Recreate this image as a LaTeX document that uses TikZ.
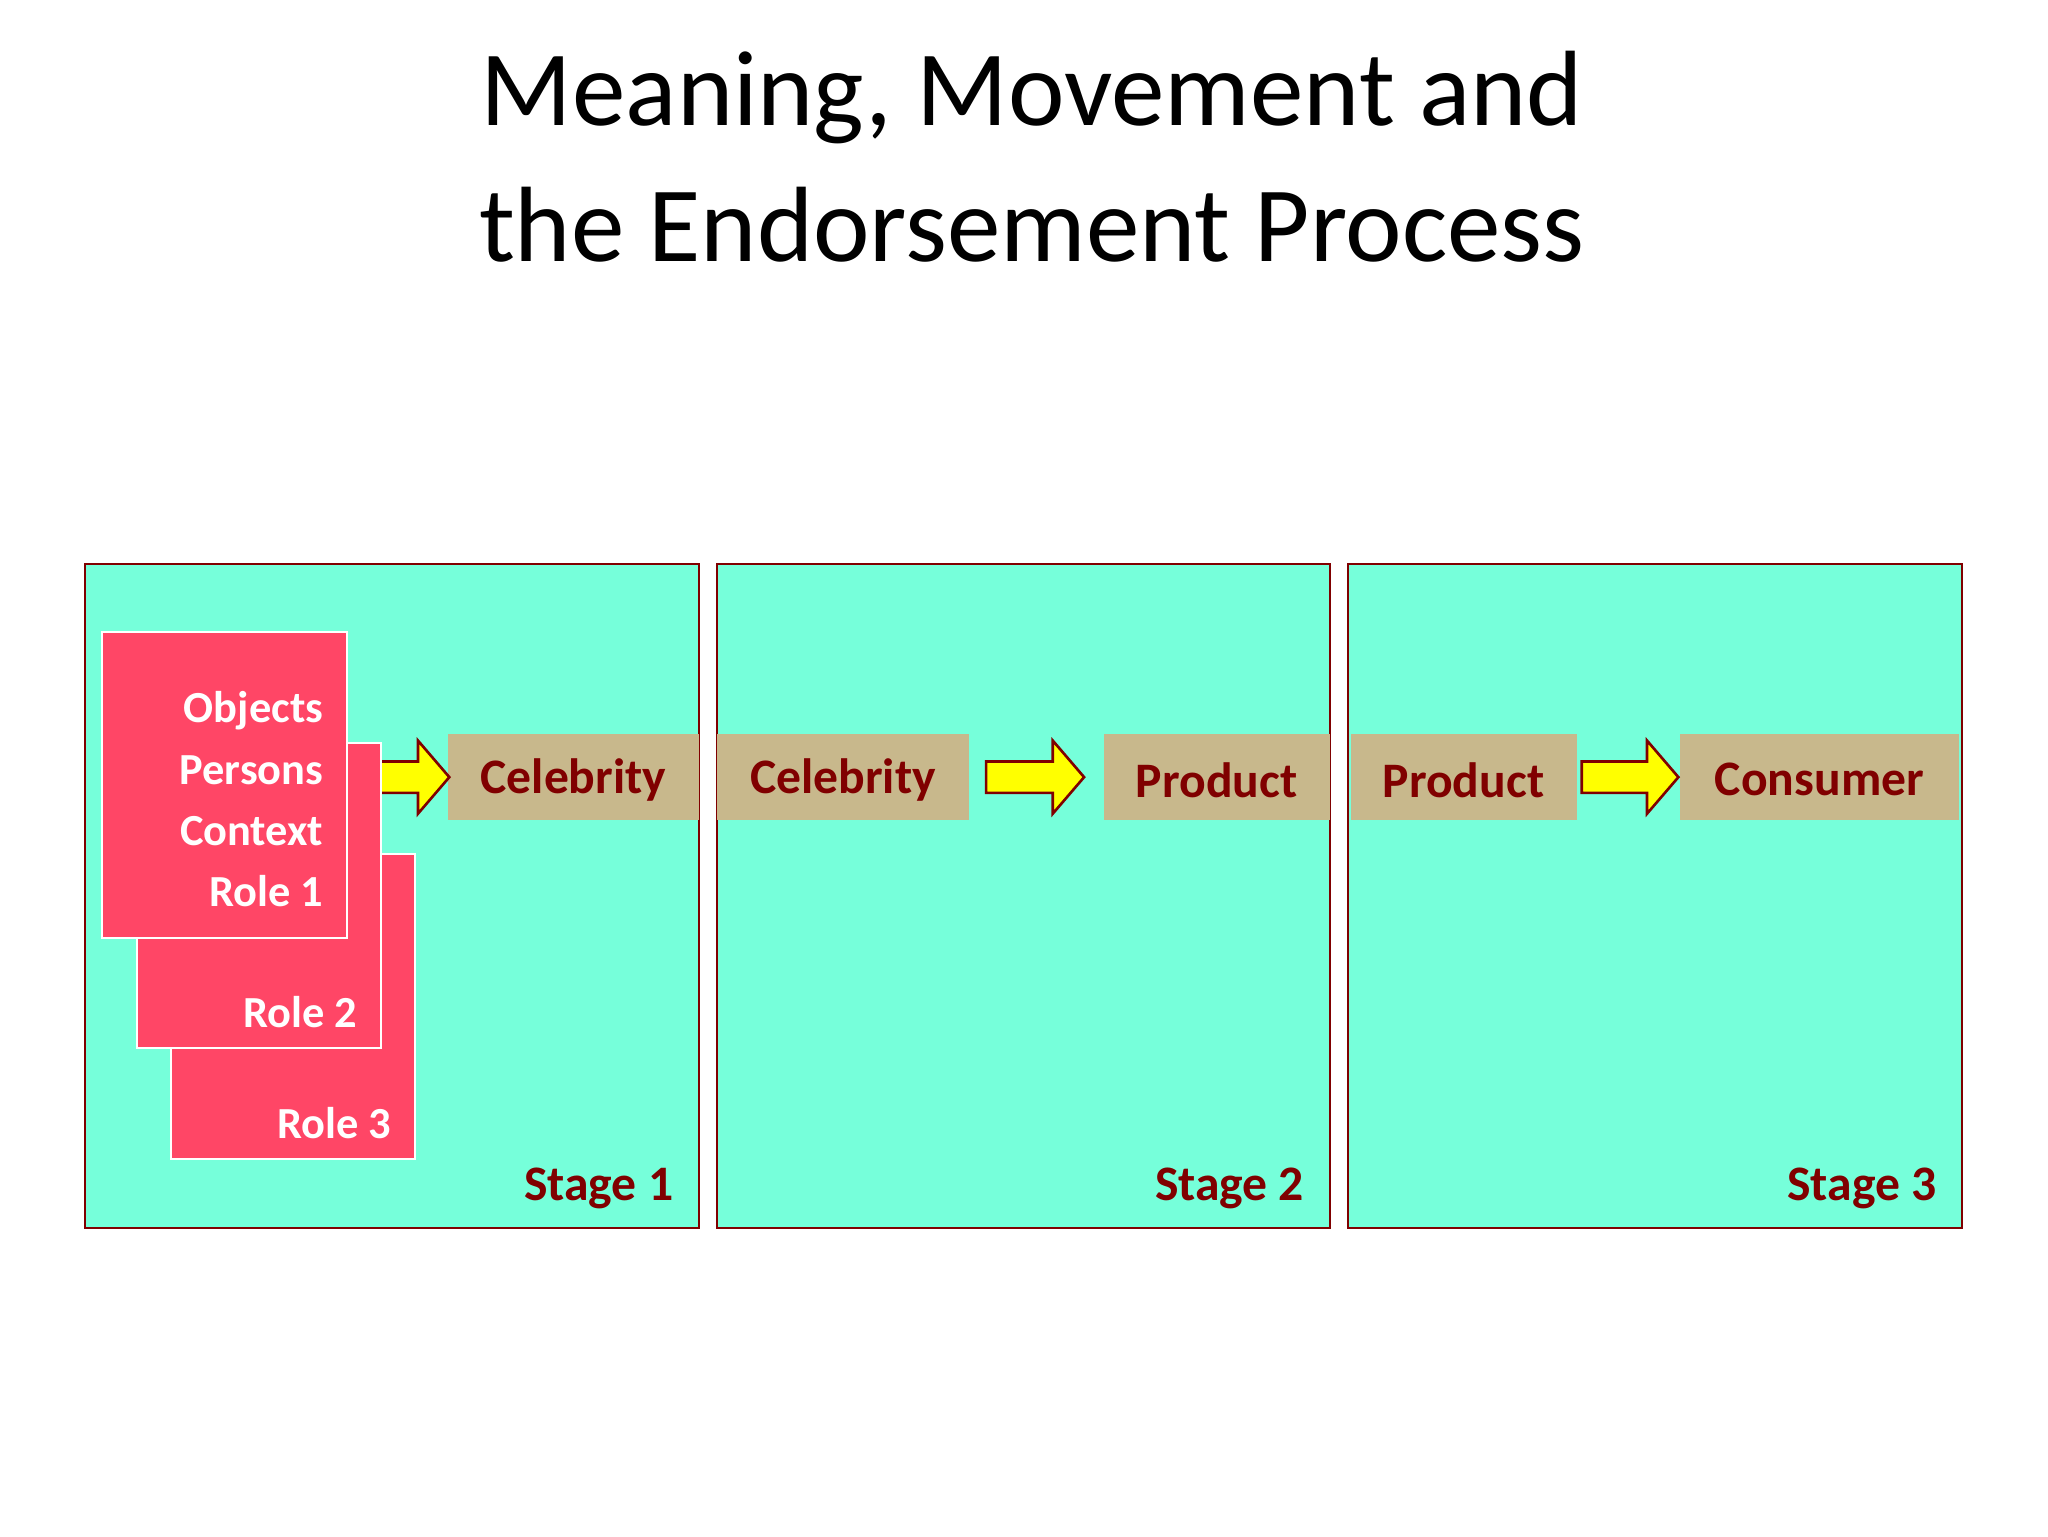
\documentclass[tikz,border=0pt]{standalone}
\usepackage{fontspec}
\setmainfont{Carlito}
\definecolor{aqua}{RGB}{118,255,218}
\definecolor{dred}{RGB}{128,0,0}
\definecolor{tan}{RGB}{200,184,140}
\definecolor{pink}{RGB}{255,70,102}
\definecolor{yel}{RGB}{255,255,0}
\begin{document}
\begin{tikzpicture}[x=1pt,y=-1pt,
  panel/.style={draw=dred,line width=1.5pt,fill=aqua},
  tanbox/.style={fill=tan},
  lbl/.style={text=dred,font=\fontsize{38}{40}\selectfont\bfseries},
  card/.style={draw=white,line width=1.5pt,fill=pink},
  ctext/.style={text=white,font=\fontsize{34}{47}\selectfont\bfseries,align=right},
  yarrow/.style={draw=dred,line width=2pt,fill=yel,line join=miter}]
\useasboundingbox[fill=white] (0,0) rectangle (1568,1176);
\node (t) at (790,120) [font=\fontsize{82}{104}\selectfont,align=center] {Meaning, Movement and\\the Endorsement Process};
\foreach \n/\a/\b in {p1/65/535,p2/549/1018,p3/1032/1502}{
  \draw[panel] (\a,432) rectangle (\b,940);
  \coordinate (\n) at (\b-16,910);}
\node[lbl,anchor=east] (s1) at (p1) {Stage 1};
\node[lbl,anchor=east] (s2) at (p2) {Stage 2};
\node[lbl,anchor=east] (s3) at (p3) {Stage 3};
\foreach \n/\a/\b/\t in {c1/343/535/Celebrity,c2/549/742/Celebrity,d1/845/1018/Product,d2/1034/1207/Product,e1/1286/1500/Consumer}{
  \fill[tanbox] (\a,562) rectangle (\b,628);
  \node[lbl] (\n) at ({(\a+\b)/2},597) {\t};}
\foreach \a/\b in {272/344,755/830,1211/1285}{
  \draw[yarrow] (\a,583) -- (\b-24,583) -- (\b-24,567) -- (\b,595) -- (\b-24,623) -- (\b-24,607) -- (\a,607) -- cycle;}
\draw[card] (131,654) rectangle (318,887);
\node[ctext,anchor=east] (r3) at (303,860) {Role 3};
\draw[card] (105,569) rectangle (292,802);
\node[ctext,anchor=east] (r2) at (277,775) {Role 2};
\draw[card] (78,484) rectangle (266,718);
\node[ctext,anchor=north east] (r1) at (251,526) {Objects\\Persons\\Context\\Role 1};
\end{tikzpicture}
\end{document}
